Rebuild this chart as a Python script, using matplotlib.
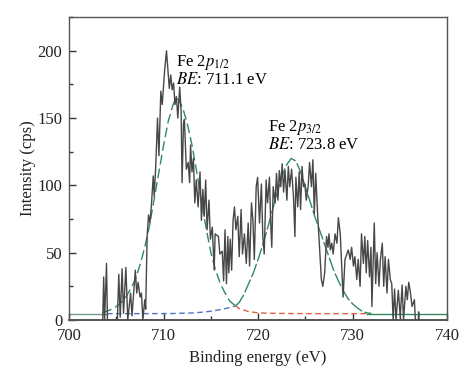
import matplotlib
matplotlib.use("Agg")
import matplotlib.pyplot as plt
from matplotlib.ticker import MultipleLocator

plt.rcParams['font.family'] = 'serif'
plt.rcParams['font.serif'] = ['Liberation Serif', 'DejaVu Serif']
plt.rcParams['mathtext.fontset'] = 'stix'

# measured spectrum (binding energy in eV, intensity in cps)
spec_x = [703.55, 703.65, 703.75, 703.95, 704.05, 705.1, 705.25, 705.4, 705.6, 705.75,
          706.0, 706.2, 706.35, 706.5, 706.65, 707.0, 707.15, 707.3, 707.5, 707.65,
          707.8, 708.0, 708.1, 708.25, 708.4, 708.55, 708.7, 708.9, 709.0, 709.15,
          709.35, 709.5, 709.7, 709.85, 710.1, 710.3, 710.5, 710.6, 710.75, 710.9,
          711.05, 711.2, 711.35, 711.5, 711.7, 711.85, 711.95, 712.1, 712.2, 712.4,
          712.6, 712.75, 712.85, 713.0, 713.15, 713.3, 713.45, 713.65, 713.85, 714.0,
          714.15, 714.3, 714.45, 714.6, 714.8, 714.95, 715.15, 715.35, 715.45, 715.8,
          715.95, 716.2, 716.35, 716.5, 716.65, 716.8, 716.9, 717.05, 717.2, 717.35,
          717.5, 717.65, 717.85, 718.0, 718.2, 718.35, 718.55, 718.75, 718.95, 719.1,
          719.3, 719.45, 719.6, 719.8, 719.95, 720.15, 720.35, 720.5, 720.65, 720.85,
          721.0, 721.2, 721.35, 721.45, 721.6, 721.8, 721.95, 722.1, 722.25, 722.4,
          722.55, 722.7, 722.85, 723.05, 723.2, 723.35, 723.55, 723.75, 723.9, 724.0,
          724.2, 724.35, 724.5, 724.65, 724.8, 724.95, 725.1, 725.3, 725.45, 725.65,
          725.8, 725.95, 726.1, 726.3, 726.55, 726.7, 726.85, 727.05, 727.25, 727.4,
          727.5, 727.65, 727.8, 727.95, 728.15, 728.35, 728.5, 728.7, 728.9, 729.0,
          729.2, 729.4, 729.55, 729.75, 729.9, 730.1, 730.25, 730.45, 730.6, 730.8,
          730.95, 731.15, 731.3, 731.45, 731.6, 731.8, 731.95, 732.05, 732.3, 732.45,
          732.6, 732.8, 732.95, 733.15, 733.3, 733.45, 733.65, 733.8, 734.0, 734.15,
          734.3, 734.45, 734.6, 734.85, 735.05, 735.25, 735.4, 735.65, 735.8, 735.95,
          736.1, 736.3, 736.55, 736.65, 736.95, 737.0, 737.05]
spec_y = [0, 32, 0, 42, 0, 0, 34, 2, 38, 5,
          39, 0, 10, 20, 3, 37, 20, 28, 17, 20,
          0, 15, 8, 62, 78, 72, 85, 107, 92, 112,
          150, 122, 170, 160, 185, 200, 181, 172, 182, 171,
          176, 160, 166, 150, 173, 155, 102, 146, 149, 112,
          117, 102, 130, 110, 120, 87, 104, 84, 110, 74,
          97, 77, 104, 67, 89, 60, 69, 37, 64, 62,
          49, 51, 29, 67, 27, 62, 35, 60, 37, 74,
          84, 67, 77, 47, 82, 49, 64, 42, 72, 40,
          87, 74, 45, 99, 106, 72, 101, 62, 49, 104,
          87, 106, 69, 54, 99, 87, 109, 89, 111, 99,
          116, 95, 111, 89, 114, 99, 112, 91, 62, 106,
          84, 110, 82, 114, 99, 101, 89, 99, 117, 99,
          119, 79, 109, 79, 49, 30, 25, 35, 62, 54,
          64, 52, 57, 49, 64, 57, 76, 64, 32, 17,
          45, 49, 52, 45, 54, 40, 47, 30, 45, 25,
          64, 42, 62, 35, 59, 32, 54, 10, 72, 27,
          50, 25, 45, 57, 25, 47, 20, 45, 30, 27,
          0, 23, 0, 22, 2, 26, 0, 25, 15, 28,
          22, 10, 15, 0, 0, 6, 0]

# fitted component for Fe 2p1/2
fit1_x = [703.5, 704, 704.5, 705, 705.5, 706, 706.5, 707, 707.5, 708, 708.5, 709,
          709.5, 710, 710.5, 711, 711.3, 711.6, 712, 712.5, 713, 713.5, 714, 714.5,
          715, 715.5, 716, 716.5, 717, 717.6, 718, 719, 720, 721, 723, 726, 729, 731.5]
fit1_y = [5.5, 6.5, 8, 10, 13, 17, 23, 30, 41, 54, 70, 90,
          110, 130, 148, 160, 165, 163, 158, 146, 130, 110, 88, 68,
          50, 37, 27, 20, 14, 10.5, 8.5, 6.2, 5.3, 5.0, 4.8, 4.7, 4.7, 4.7]

# fitted component for Fe 2p3/2
fit2_x = [704, 708, 711, 713, 714, 715, 716, 717, 717.6, 718, 718.5, 719, 719.5,
          720, 720.5, 721, 721.5, 722, 722.5, 723, 723.5, 724, 724.5, 725, 725.5,
          726, 726.5, 727, 727.5, 728, 728.5, 729, 729.5, 730, 730.5, 731, 731.5, 732]
fit2_y = [4.7, 4.7, 4.8, 5.2, 5.7, 6.5, 7.7, 9.2, 10.5, 13, 19, 27, 35,
          45, 56, 68, 81, 94, 106, 115, 120, 118, 110, 99, 88,
          77, 67, 57, 47, 37, 29, 22, 16, 12, 9, 6.5, 5.3, 4.8]

baseline = 4.7
split = 717.6

green = '#2f8a5e'
blue = '#4f74c4'
red = '#e0613f'

fig = plt.figure(figsize=(4.74, 3.80), dpi=100)
ax = fig.add_axes([0.146, 0.158, 0.797, 0.797])

# baseline pieces outside the fitted region
ax.plot([700, 704], [baseline, baseline], color='#6f9a86', lw=1.0, zorder=1)
ax.plot([731.5, 740], [baseline, baseline], color=green, lw=1.0, zorder=1)

# component 1: green left, red tail
i1 = fit1_x.index(split)
ax.plot(fit1_x[:i1 + 1], fit1_y[:i1 + 1], color=green, lw=1.0, dashes=(7, 3), zorder=2)
ax.plot(fit1_x[i1:], fit1_y[i1:], color=red, lw=1.0, dashes=(4, 2.5), zorder=2)

# component 2: blue tail, green peak
i2 = fit2_x.index(split)
ax.plot(fit2_x[:i2 + 1], fit2_y[:i2 + 1], color=blue, lw=1.0, dashes=(4, 2.5), zorder=2)
ax.plot(fit2_x[i2:], fit2_y[i2:], color=green, lw=1.0, dashes=(10, 2), zorder=2)

ax.plot(spec_x, spec_y, color='#474747', lw=1.0, zorder=3)

ax.text(711.3, 191, r'Fe 2$p_{1/2}$', fontsize=12, va='center', ha='left')
ax.text(711.3, 178, r'$BE$: 711.1 eV', fontsize=12, va='center', ha='left')
ax.text(721.1, 143, r'Fe 2$p_{3/2}$', fontsize=12, va='center', ha='left')
ax.text(721.1, 130, r'$BE$: 723.8 eV', fontsize=12, va='center', ha='left')

ax.set_xlim(700, 740)
ax.set_ylim(0, 225)
ax.xaxis.set_major_locator(MultipleLocator(10))
ax.xaxis.set_minor_locator(MultipleLocator(5))
ax.yaxis.set_major_locator(MultipleLocator(50))
ax.yaxis.set_minor_locator(MultipleLocator(25))
ax.tick_params(which='both', direction='in', top=False, right=False,
               labelsize=12, colors='#333333', labelcolor='#222222')
ax.tick_params(axis='x', pad=6)
ax.tick_params(axis='y', pad=5)
ax.tick_params(which='major', length=5, width=1)
ax.tick_params(which='minor', length=3, width=1)
for s in ax.spines.values():
    s.set_color('#555555')
    s.set_linewidth(1.0)
ax.spines['bottom'].set_linewidth(1.4)

ax.set_xlabel('Binding energy (eV)', fontsize=12, color='#222222', labelpad=4)
ax.set_ylabel('Intensity (cps)', fontsize=12, color='#222222', labelpad=1)

fig.savefig('out.png', dpi=100)
